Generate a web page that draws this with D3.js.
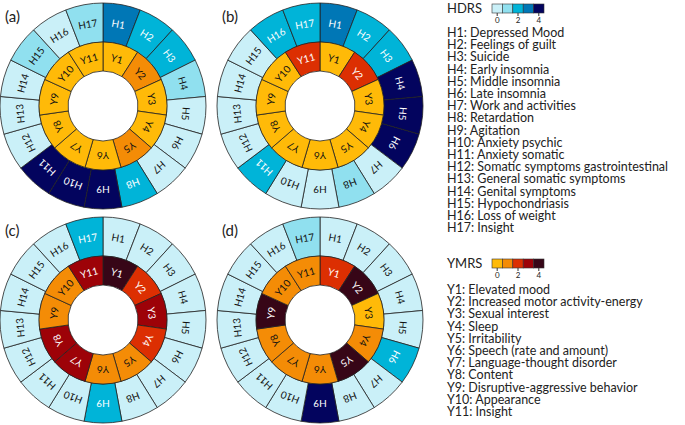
<!DOCTYPE html>
<html>
<head>
<meta charset="utf-8">
<script src="https://cdn.jsdelivr.net/npm/d3@7"></script>
<style>
  body { margin: 0; background: #fff; }
  svg { font-family: "Lato", "Open Sans", sans-serif; }
</style>
</head>
<body>
<svg id="chart" width="685" height="425"></svg>
<script>
// item names
const hdrsNames = ["Depressed Mood", "Feelings of guilt", "Suicide", "Early insomnia", "Middle insomnia",
  "Late insomnia", "Work and activities", "Retardation", "Agitation", "Anxiety psychic", "Anxiety somatic",
  "Somatic symptoms gastrointestinal", "General somatic symptoms", "Genital symptoms", "Hypochondriasis",
  "Loss of weight", "Insight"];
const ymrsNames = ["Elevated mood", "Increased motor activity-energy", "Sexual interest", "Sleep", "Irritability",
  "Speech (rate and amount)", "Language-thought disorder", "Content", "Disruptive-aggressive behavior",
  "Appearance", "Insight"];

const panelLabels = ["(a)", "(b)", "(c)", "(d)"];

// scores per panel, H1..H17 and Y1..Y11
const hdrsA = [3, 2, 2, 1, 0, 0, 0, 2, 4, 4, 4, 0, 0, 0, 1, 0, 1];
const hdrsB = [3, 2, 2, 4, 4, 4, 0, 1, 0, 0, 2, 0, 0, 0, 0, 2, 2];
const hdrsC = [0, 0, 0, 0, 0, 0, 0, 0, 2, 0, 0, 0, 0, 0, 0, 0, 2];
const hdrsD = [0, 0, 0, 0, 0, 2, 0, 0, 4, 0, 0, 0, 0, 0, 0, 0, 1];

const ymrsA = [0, 1, 0, 0, 1, 0, 0, 0, 0, 0, 0];
const ymrsB = [0, 2, 0, 0, 0, 0, 0, 0, 0, 0, 2];
const ymrsC = [4, 2, 3, 2, 1, 1, 3, 3, 1, 1, 3];
const ymrsD = [2, 4, 0, 1, 4, 1, 1, 1, 4, 1, 1];

const levels = [0, 1, 2, 3, 4];
const legendTicks = [0, 2, 4];
const hdrsColors = ["#caf0f8", "#90e0ef", "#00b4d8", "#0077b6", "#03045e"];
const ymrsColors = ["#ffba08", "#f48c06", "#dc2f02", "#9d0208", "#370617"];

const panels = [
  { label: panelLabels[0], h: hdrsA, y: ymrsA, cx: 103, cy: 106 },
  { label: panelLabels[1], h: hdrsB, y: ymrsB, cx: 320, cy: 106 },
  { label: panelLabels[2], h: hdrsC, y: ymrsC, cx: 103, cy: 320 },
  { label: panelLabels[3], h: hdrsD, y: ymrsD, cx: 320, cy: 320 }
];

const svg = d3.select("#chart");

const hColor = d3.scaleOrdinal().domain(levels).range(hdrsColors);
const yColor = d3.scaleOrdinal().domain(levels).range(ymrsColors);

const rHole = 35, rMid = 64, rOut = 103;

const pie = d3.pie().value(1).sort(null);
const outerArc = d3.arc().innerRadius(rMid).outerRadius(rOut);
const innerArc = d3.arc().innerRadius(rHole).outerRadius(rMid);

function drawRing(g, values, prefix, arc, color) {
  const slices = pie(values.map((v, i) => ({ name: prefix + (i + 1), value: v })));
  g.selectAll(null)
    .data(slices)
    .enter()
    .append("path")
    .attr("d", arc)
    .attr("fill", d => color(d.data.value))
    .attr("stroke", "#222")
    .attr("stroke-width", 0.8);

  g.selectAll(null)
    .data(slices)
    .enter()
    .append("text")
    .attr("transform", d => {
      const [x, y] = arc.centroid(d);
      const a = (d.startAngle + d.endAngle) / 2 * 180 / Math.PI;
      return `translate(${x},${y}) rotate(${a})`;
    })
    .attr("text-anchor", "middle")
    .attr("dominant-baseline", "central")
    .style("font-size", "10px")
    .attr("fill", d => d.data.value >= 2 ? "#fff" : "#111")
    .text(d => d.data.name);
}

panels.forEach(p => {
  const g = svg.append("g").attr("transform", `translate(${p.cx},${p.cy})`);
  drawRing(g, p.h, "H", outerArc, hColor);
  drawRing(g, p.y, "Y", innerArc, yColor);
  svg.append("text")
    .attr("x", p.cx - 98)
    .attr("y", p.cy - 84)
    .style("font-size", "15px")
    .attr("fill", "#222")
    .text(p.label);
});

function drawLegend(title, color, names, prefix, top, listTop) {
  const g = svg.append("g").attr("transform", `translate(447,${top})`);
  g.append("text")
    .attr("x", 0)
    .attr("y", 9)
    .style("font-size", "13px")
    .attr("fill", "#222")
    .text(title);

  const x = d3.scaleBand().domain(levels).range([45, 97]);
  g.selectAll(null)
    .data(levels)
    .enter()
    .append("rect")
    .attr("x", d => x(d))
    .attr("y", 0)
    .attr("width", x.bandwidth())
    .attr("height", 9)
    .attr("fill", d => color(d))
    .attr("stroke", "#333")
    .attr("stroke-width", 0.6);

  const axis = d3.axisBottom(x).tickValues(legendTicks).tickSize(3).tickPadding(1);
  const ax = g.append("g").attr("transform", "translate(0,9)").call(axis);
  ax.select(".domain").remove();
  ax.selectAll("text").style("font-size", "8px").attr("fill", "#222").style("font-family", "Lato, sans-serif");
  ax.selectAll("line").attr("stroke", "#333");

  svg.append("g")
    .attr("transform", `translate(447,${listTop})`)
    .selectAll(null)
    .data(names)
    .enter()
    .append("text")
    .attr("x", 0)
    .attr("y", (d, i) => i * 12.2)
    .style("font-size", "12.5px")
    .attr("fill", "#222")
    .text((d, i) => `${prefix}${i + 1}: ${d}`);
}

drawLegend("HDRS", hColor, hdrsNames, "H", 4, 37);
drawLegend("YMRS", yColor, ymrsNames, "Y", 259, 294);
</script>
</body>
</html>
